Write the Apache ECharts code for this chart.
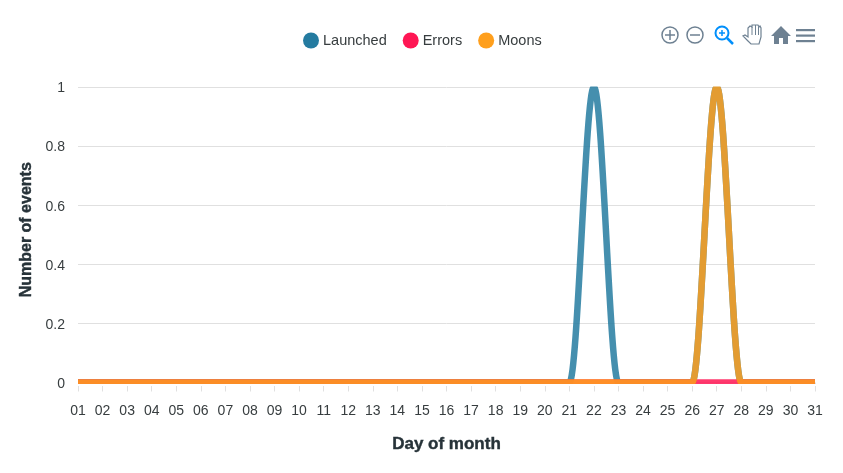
<!DOCTYPE html>
<html><head><meta charset="utf-8">
<style>html,body{margin:0;padding:0;background:#fff}#c{width:843px;height:473px}</style>
<script src="https://cdn.jsdelivr.net/npm/echarts@6/dist/echarts.min.js"></script>
</head><body><div id="c"></div>
<script>
const days=['01','02','03','04','05','06','07','08','09','10','11','12','13','14','15','16','17','18','19','20','21','22','23','24','25','26','27','28','29','30','31'];
const launched=[0,0,0,0,0,0,0,0,0,0,0,0,0,0,0,0,0,0,0,0,0,1,0,0,0,0,1,0,0,0,0];
const errors=[0,0,0,0,0,0,0,0,0,0,0,0,0,0,0,0,0,0,0,0,0,0,0,0,0,0,0,0,0,0,0];
const moons=[0,0,0,0,0,0,0,0,0,0,0,0,0,0,0,0,0,0,0,0,0,0,0,0,0,0,1,0,0,0,0];
const font='"Liberation Sans",Arial,sans-serif';
const iconGrey='#6E8192';
const chart=echarts.init(document.getElementById('c'),null,{renderer:'canvas'});
function line(name,data,color){return {name,type:'line',data,smooth:0.35,smoothMonotone:'x',showSymbol:false,symbol:'none',
  itemStyle:{color},lineStyle:{color,width:6.5,opacity:0.85,cap:'butt',join:'round'}};}
const titleStyle={fontFamily:font,fontWeight:'bold',fontSize:16,color:'#263238',textBorderColor:'#263238',textBorderWidth:0.4};
chart.setOption({
  animation:false,backgroundColor:'#fff',
  grid:{left:78,right:28,top:87,bottom:90.5,containLabel:false},
  legend:{left:298,top:27.5,icon:'circle',itemWidth:16,itemHeight:16,itemGap:16,
    textStyle:{fontFamily:font,fontSize:14.5,color:'#373d3f',padding:[0,0,0,-1]}},
  xAxis:{type:'category',data:days,boundaryGap:false,name:'Day of month',nameLocation:'middle',nameGap:53,
    nameTextStyle:Object.assign({},titleStyle,{fontSize:17}),
    axisLine:{show:false},axisTick:{show:true,alignWithLabel:true,length:9,lineStyle:{color:'#e0e0e0'}},
    axisLabel:{interval:0,fontFamily:font,fontSize:14,color:'#373d3f',margin:22}},
  yAxis:{type:'value',min:0,max:1,interval:0.2,name:'Number of events',nameLocation:'middle',nameGap:35,
    nameTextStyle:Object.assign({},titleStyle,{padding:[0,0,0,10]}),
    axisLine:{show:false},axisTick:{show:false},
    axisLabel:{fontFamily:font,fontSize:14,color:'#373d3f',margin:13,formatter:'{a|{value}}',
      rich:{a:{fontFamily:font,fontSize:14,color:'#373d3f',padding:[3,0,0,0]}}},
    splitLine:{lineStyle:{color:'#e0e0e0',width:1}}},
  series:[line('Launched',launched,'#247BA0'),line('Errors',errors,'#FF1654'),line('Moons',moons,'#FF9F1C')],
  graphic:[
    {type:'rect',z:10,shape:{x:78,y:82,width:737,height:4.6},style:{fill:'#fff'}},
    {type:'rect',z:10,shape:{x:70,y:384,width:752,height:2},style:{fill:'#fff'}},
    {type:'circle',shape:{cx:670,cy:35,r:8},style:{fill:'none',stroke:iconGrey,lineWidth:1.5}},
    {type:'line',shape:{x1:665,y1:35,x2:675,y2:35},style:{stroke:iconGrey,lineWidth:1.5}},
    {type:'line',shape:{x1:670,y1:30,x2:670,y2:40},style:{stroke:iconGrey,lineWidth:1.5}},
    {type:'circle',shape:{cx:695,cy:35,r:8},style:{fill:'none',stroke:iconGrey,lineWidth:1.5}},
    {type:'line',shape:{x1:690,y1:35,x2:700,y2:35},style:{stroke:iconGrey,lineWidth:1.5}},
    {type:'circle',shape:{cx:722,cy:33,r:6.5},style:{fill:'none',stroke:'#008FFB',lineWidth:2}},
    {type:'line',shape:{x1:727,y1:38,x2:733,y2:44},style:{stroke:'#008FFB',lineWidth:2.5}},
    {type:'line',shape:{x1:719,y1:33,x2:725,y2:33},style:{stroke:'#008FFB',lineWidth:1.5}},
    {type:'line',shape:{x1:722,y1:30,x2:722,y2:36},style:{stroke:'#008FFB',lineWidth:1.5}},
    {type:'polygon',shape:{points:[[748,37],[748,28],[750,26],[752,27],[752,25],[754,25],[756,25],[756,25],[758,25],[759,27],[760,26],[761,28],[761,37],[759,44],[751,44],[748,41],[743,36],[745,35]]},style:{fill:'#fff',stroke:iconGrey,lineWidth:1.2}},
    {type:'line',shape:{x1:752,y1:27,x2:752,y2:35},style:{stroke:iconGrey,lineWidth:1}},
    {type:'line',shape:{x1:755.5,y1:25,x2:755.5,y2:35},style:{stroke:iconGrey,lineWidth:1}},
    {type:'line',shape:{x1:758.5,y1:27,x2:758.5,y2:35},style:{stroke:iconGrey,lineWidth:1}},
    {type:'polygon',shape:{points:[[781,26],[791,36],[788,36],[788,44],[783,44],[783,38],[779,38],[779,44],[774,44],[774,36],[771,36]]},style:{fill:iconGrey}},
    {type:'rect',shape:{x:796,y:29,width:19,height:2.2},style:{fill:iconGrey}},
    {type:'rect',shape:{x:796,y:34.5,width:19,height:2.2},style:{fill:iconGrey}},
    {type:'rect',shape:{x:796,y:40,width:19,height:2.2},style:{fill:iconGrey}}
  ]
});
</script></body></html>
